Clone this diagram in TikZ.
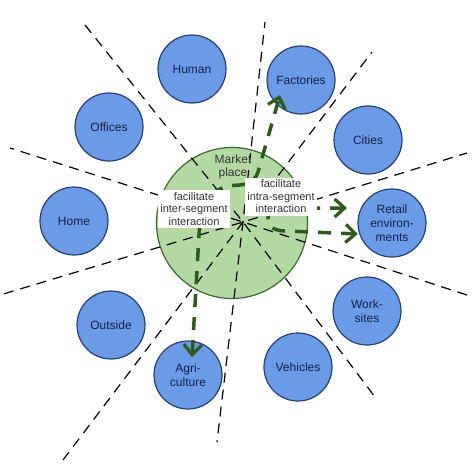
\documentclass[tikz,border=0pt]{standalone}
\usepackage{fontspec}
\setmainfont{Liberation Sans}
\usetikzlibrary{arrows.meta}
\definecolor{blueF}{HTML}{6B9AE6}
\definecolor{blueD}{HTML}{26406E}
\definecolor{blueT}{HTML}{12224A}
\definecolor{greenF}{HTML}{B4D9A2}
\definecolor{greenD}{HTML}{3A6A30}
\definecolor{arrowG}{HTML}{2F5A1E}
\definecolor{textG}{HTML}{333333}
\begin{document}
\begin{tikzpicture}[x=1pt,y=-1pt,
 seg/.style={circle, draw=blueD, line width=1.2pt, fill=blueF, minimum size=68pt, inner sep=0pt, align=center, font=\fontsize{12}{14}\selectfont, text=blueT},
 market/.style={circle, draw=greenD, line width=1.2pt, fill=greenF, minimum size=151pt, inner sep=0pt},
 ray/.style={draw=black, line width=1.2pt, dash pattern=on 10pt off 7pt},
 flow/.style={draw=arrowG, line width=3.5pt, dash pattern=on 13pt off 10pt,
   {Straight Barb[length=10pt,width=18pt,line width=3.2pt]}-{Straight Barb[length=10pt,width=18pt,line width=3.2pt]}},
 note/.style={fill=white, inner sep=0pt, minimum width=72pt, minimum height=38pt, align=center, font=\fontsize{11}{12.5}\selectfont, text=textG},
 mlabel/.style={align=center, font=\fontsize{12}{13}\selectfont, text=textG, inner sep=0pt}
]
\useasboundingbox (0,0) rectangle (474,474);
\node[market] (mk) at (232,223) {};
% rays
\coordinate (C) at (243,222);
\coordinate (r1a) at (85,25);  \coordinate (r1b) at (375,397);
\coordinate (r2a) at (265,22); \coordinate (r2b) at (217,442);
\coordinate (r3a) at (372,52); \coordinate (r3b) at (63,460);
\coordinate (r4a) at (467,153);\coordinate (r4b) at (0,295);
\coordinate (r5a) at (10,148); \coordinate (r5b) at (473,297);
\draw[ray] (r1a) -- (C) -- (r1b);
\draw[ray, dash phase=4pt] (r2a) -- (C) -- (r2b);
\draw[ray, dash phase=8pt] (r3a) -- (C) -- (r3b);
\draw[ray, dash phase=2pt] (r4a) -- (C) -- (r4b);
\draw[ray, dash phase=6pt] (r5a) -- (C) -- (r5b);
\node[mlabel] (mp) at (233,167) {Market\\place};
% segments
\node[seg] (human) at (192,69) {Human};
\node[seg] (fact) at (301,80) {Factories};
\node[seg] (off) at (109,127) {Offices};
\node[seg] (city) at (368,140) {Cities};
\node[seg] (home) at (74,221) {Home};
\node[seg] (retail) at (392,223) {Retail\\environ-\\ments};
\node[seg] (outs) at (111,325) {Outside};
\node[seg] (work) at (367,311) {Work-\\sites};
\node[seg] (agri) at (188,375) {Agri-\\culture};
\node[seg] (veh) at (298,367) {Vehicles};
% flows
\coordinate (aTip) at (192,357);
\coordinate (fTip) at (280,95);
\coordinate (rTipA) at (347,208);
\coordinate (rTipB) at (358,234);
\draw[flow] (aTip) -- (199,235) .. controls (202,195) and (215,186) .. (240,185)
   .. controls (252,184) and (256,178) .. (258,172) -- (fTip);
\draw[flow] (rTipA) -- (282,208) .. controls (270,208) and (268,213) .. (268,218)
   .. controls (268,228) and (276,231) .. (286,231) -- (rTipB);
% notes
\node[note] (inter) at (194,209) {facilitate\\inter-segment\\interaction};
\node[note] (intra) at (281,196.5) {facilitate\\intra-segment\\interaction};
\end{tikzpicture}
\end{document}
